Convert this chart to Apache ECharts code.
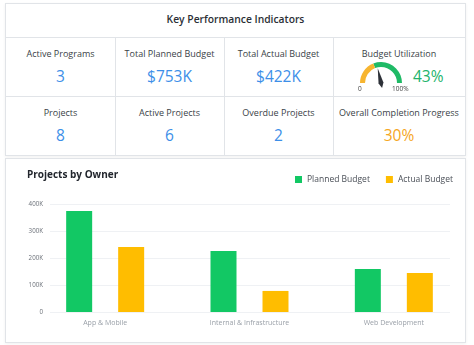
<!DOCTYPE html>
<html>
<head>
<meta charset="utf-8">
<script src="https://cdn.jsdelivr.net/npm/echarts@6/dist/echarts.min.js"></script>
<style>
  html, body { margin:0; padding:0; background:#fff; width:474px; height:345px; overflow:hidden; font-family:"Open Sans", sans-serif; }
  .card { position:absolute; background:#fff; border:1px solid #e1e4e8; box-sizing:border-box; box-shadow:0 1px 3px rgba(0,0,0,0.06); }
  .cell { position:absolute; box-sizing:border-box; text-align:center; }
  .lbl { position:absolute; left:0; right:0; font-size:9px; color:#3a3f47; white-space:nowrap; }
  .val { position:absolute; left:0; right:0; font-size:15.5px; color:#3d8fe8; white-space:nowrap; }
  .vline { position:absolute; width:1px; background:#e1e4e8; }
  .hline { position:absolute; height:1px; background:#e1e4e8; }
  .tick { position:absolute; font-size:6.5px; color:#444; }
</style>
</head>
<body>
<div class="card" style="left:5px; top:3px; width:461px; height:153px;"></div>
<div id="kpi"></div>
<div class="card" style="left:5px; top:158px; width:461px; height:185px;"></div>
<div id="bar" style="position:absolute; left:0px; top:159px; width:474px; height:183px;"></div>
<div id="gauge" style="position:absolute; left:350px; top:58px; width:64px; height:34px;"></div>
<span class="tick" style="left:358px; top:84px;">0</span>
<span class="tick" style="left:392px; top:84px;">100%</span>
<script>
// ---- data ----
var kpiTitle = "Key Performance Indicators";
var kpiLabels = ["Active Programs", "Total Planned Budget", "Total Actual Budget", "Budget Utilization",
                 "Projects", "Active Projects", "Overdue Projects", "Overall Completion Progress"];
var kpiValues = ["3", "$753K", "$422K", "43%", "8", "6", "2", "30%"];
var budgetUtilization = 43;
var chartTitle = "Projects by Owner";
var owners = ["App & Mobile", "Internal & Infrastructure", "Web Development"];
var seriesNames = ["Planned Budget", "Actual Budget"];
var plannedBudget = [374000, 226000, 159000];
var actualBudget = [241000, 78000, 144000];
var yTicks = [0, 100000, 200000, 300000, 400000];

// ---- KPI grid (HTML text) ----
var kpi = document.getElementById('kpi');
var colX = [6, 115, 224, 333, 465];
var rowY = [37, 96, 155];
function add(html){ kpi.insertAdjacentHTML('beforeend', html); }
add('<div style="position:absolute;left:6px;width:459px;top:12px;text-align:center;font-size:10.3px;font-weight:600;color:#2b2f36;">'+kpiTitle+'</div>');
add('<div class="hline" style="left:6px;width:459px;top:37px;"></div>');
add('<div class="hline" style="left:6px;width:459px;top:96px;"></div>');
for (var c=1;c<4;c++) add('<div class="vline" style="left:'+colX[c]+'px;top:37px;height:118px;"></div>');
var valColors = ["#3d8fe8","#3d8fe8","#3d8fe8","#22b36b","#3d8fe8","#3d8fe8","#3d8fe8","#f5a623"];
for (var i=0;i<8;i++){
  var r = Math.floor(i/4), c = i%4;
  var x0 = colX[c], w = colX[c+1]-colX[c], y0 = rowY[r];
  var h = '<div class="cell" style="left:'+x0+'px;width:'+w+'px;top:'+y0+'px;height:59px;">'
        + '<div class="lbl" style="top:10px;">'+kpiLabels[i]+'</div>';
  if (i === 3) {
    h += '<div class="val" style="top:28px;left:'+(413-x0)+'px;right:auto;color:'+valColors[i]+';">'+kpiValues[i]+'</div>';
  } else {
    h += '<div class="val" style="top:28px;color:'+valColors[i]+';">'+kpiValues[i]+'</div>';
  }
  h += '</div>';
  add(h);
}

// ---- gauge ----
var g = echarts.init(document.getElementById('gauge'));
g.setOption({
  animation:false,
  series:[{
    type:'gauge', startAngle:180, endAngle:0, min:0, max:100,
    center:[31,25], radius:21,
    axisLine:{ lineStyle:{ width:5, color:[[0.38,'#f7b530'],[1,'#1fba66']] } },
    axisTick:{show:false}, splitLine:{show:false}, axisLabel:{show:false},
    pointer:{ length:15, width:2.5, offsetCenter:[0,0], itemStyle:{color:'#2d3138'} },
    anchor:{show:false},
    title:{show:false}, detail:{show:false},
    data:[{value:budgetUtilization}]
  }]
});

// ---- bar chart ----
var b = echarts.init(document.getElementById('bar'));
b.setOption({
  animation:false,
  title:{ text:chartTitle, left:27, top:11, padding:0, textStyle:{ fontFamily:'Open Sans', fontSize:10, fontWeight:'bold', color:'#22262d' } },
  legend:{ data:seriesNames, right:16, top:11, itemWidth:7, itemHeight:7, itemGap:16, icon:'rect',
           textStyle:{ fontFamily:'Open Sans', fontSize:8.5, color:'#4a4f57' } },
  grid:[
    { left:50, right:24, top:45, bottom:30 },   // gridlines + y labels
    { left:33, right:8, top:45, bottom:30 }     // bars + category labels
  ],
  xAxis:[
    { gridIndex:0, type:'category', data:owners, show:false },
    { gridIndex:1, type:'category', data:owners,
      axisLine:{ show:false }, axisTick:{show:false},
      axisLabel:{ fontFamily:'Open Sans', fontSize:7, color:'#9aa0a8', margin:7 } }
  ],
  yAxis:[
    { gridIndex:0, type:'value', min:0, max:400000, interval:100000,
      axisLabel:{ fontFamily:'Open Sans', fontSize:6.2, color:'#6b7078', margin:7,
                  formatter:function(v){ return v===0 ? '0' : (v/1000)+'K'; } },
      splitLine:{ lineStyle:{ color:'#eff1f4' } } },
    { gridIndex:1, type:'value', min:0, max:400000, interval:100000, show:false, splitLine:{show:false} }
  ],
  series:[
    { name:seriesNames[0], type:'bar', xAxisIndex:1, yAxisIndex:1, data:plannedBudget, barWidth:26, barGap:'100%', itemStyle:{ color:'#12c864' } },
    { name:seriesNames[1], type:'bar', xAxisIndex:1, yAxisIndex:1, data:actualBudget, barWidth:26, itemStyle:{ color:'#ffbd00' } }
  ]
});
</script>
</body>
</html>
